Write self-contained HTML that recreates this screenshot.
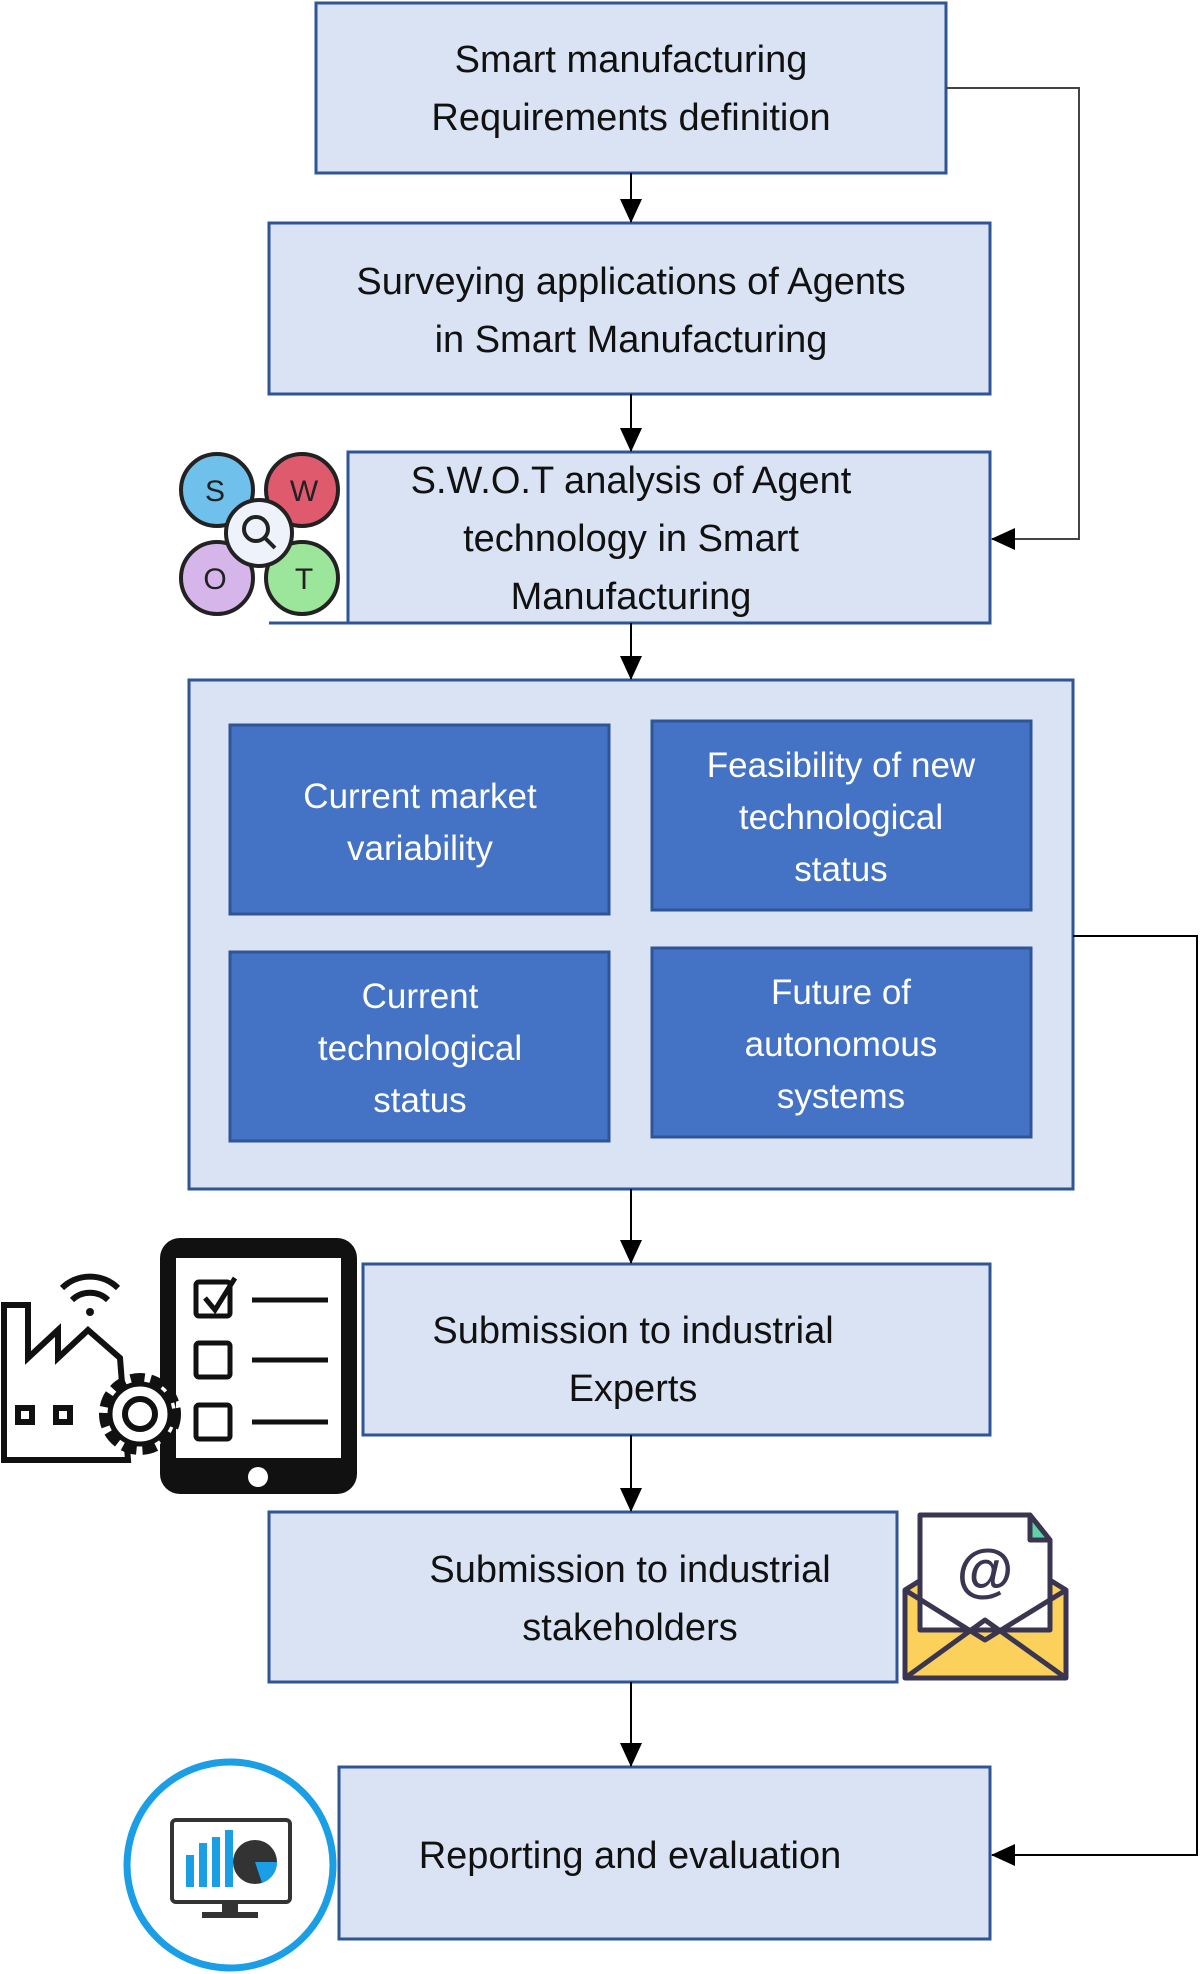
<!DOCTYPE html>
<html><head><meta charset="utf-8"><style>
html,body{margin:0;padding:0;background:#fff}
svg{display:block}
text{font-family:"Liberation Sans",sans-serif}
</style></head><body>
<svg width="1200" height="1974" viewBox="0 0 1200 1974" xmlns="http://www.w3.org/2000/svg">
<defs>
<marker id="ah" markerWidth="24" markerHeight="22" refX="23" refY="11" orient="auto" markerUnits="userSpaceOnUse" viewBox="0 0 24 22">
<path d="M0,0 L24,11 L0,22 z" fill="#000"/></marker>
</defs>
<g fill="#dae3f3" stroke="#2f5597" stroke-width="3">
<rect x="316" y="3" width="630" height="170"/>
<rect x="269" y="223" width="721" height="171"/>
<rect x="348" y="452" width="642" height="171"/>
<rect x="189" y="680" width="884" height="509"/>
<rect x="363" y="1264" width="627" height="171"/>
<rect x="269" y="1512" width="628" height="170"/>
<rect x="339" y="1767" width="651" height="172"/>
</g>
<line x1="269" y1="623" x2="348" y2="623" stroke="#2f5597" stroke-width="3"/>
<g fill="#4472c4" stroke="#2f5597" stroke-width="3">
<rect x="230" y="725" width="379" height="189"/>
<rect x="652" y="721" width="379" height="189"/>
<rect x="230" y="952" width="379" height="189"/>
<rect x="652" y="948" width="379" height="189"/>
</g>
<g stroke="#000" stroke-width="2" fill="none">
<line x1="631" y1="173" x2="631" y2="222" marker-end="url(#ah)"/>
<line x1="631" y1="394" x2="631" y2="451" marker-end="url(#ah)"/>
<line x1="631" y1="623" x2="631" y2="679" marker-end="url(#ah)"/>
<line x1="631" y1="1189" x2="631" y2="1263" marker-end="url(#ah)"/>
<line x1="631" y1="1435" x2="631" y2="1511" marker-end="url(#ah)"/>
<line x1="631" y1="1682" x2="631" y2="1766" marker-end="url(#ah)"/>
<polyline points="946,88 1079,88 1079,539 992,539" stroke="#444" marker-end="url(#ah)"/>
<polyline points="1073,936 1197,936 1197,1855 992,1855" marker-end="url(#ah)"/>
</g>
<g font-size="38" fill="#111" text-anchor="middle">
<text x="631" y="72">Smart manufacturing</text>
<text x="631" y="130">Requirements definition</text>
<text x="631" y="294">Surveying applications of  Agents</text>
<text x="631" y="352">in Smart Manufacturing</text>
<text x="631" y="493">S.W.O.T analysis of Agent</text>
<text x="631" y="551">technology in Smart</text>
<text x="631" y="609">Manufacturing</text>
<text x="633" y="1343">Submission to industrial</text>
<text x="633" y="1401">Experts</text>
<text x="630" y="1582">Submission to industrial</text>
<text x="630" y="1640">stakeholders</text>
<text x="630" y="1868">Reporting and evaluation</text>
</g>
<g font-size="35" fill="#fff" text-anchor="middle">
<text x="420" y="808">Current market</text>
<text x="420" y="860">variability</text>
<text x="841" y="777">Feasibility of new</text>
<text x="841" y="829">technological</text>
<text x="841" y="881">status</text>
<text x="420" y="1008">Current</text>
<text x="420" y="1060">technological</text>
<text x="420" y="1112">status</text>
<text x="841" y="1004">Future of</text>
<text x="841" y="1056">autonomous</text>
<text x="841" y="1108">systems</text>
</g>
<!-- SWOT icon -->
<g stroke="#222" stroke-width="4">
<circle cx="217" cy="490" r="36" fill="#6fc0ea"/>
<circle cx="302" cy="490" r="36" fill="#e05a6e"/>
<circle cx="217" cy="578" r="36" fill="#d6b6ea"/>
<circle cx="302" cy="578" r="36" fill="#9be69b"/>
<circle cx="259" cy="533" r="33" fill="#eef3fb"/>
<circle cx="256" cy="529" r="12" fill="none"/>
<line x1="265" y1="538" x2="275" y2="548"/>
</g>
<g font-size="30" fill="#222" text-anchor="middle">
<text x="215" y="501">S</text><text x="304" y="501">W</text>
<text x="215" y="589">O</text><text x="304" y="589">T</text>
</g>
<!-- factory/tablet icon -->
<rect x="160" y="1238" width="197" height="256" rx="20" fill="#111"/>
<rect x="176" y="1258" width="165" height="200" fill="#fff"/>
<circle cx="258" cy="1477" r="10" fill="#fff"/>
<g stroke="#111" stroke-width="5" fill="none">
<rect x="196" y="1282" width="34" height="34" rx="3"/>
<path d="M205 1298 l10 12 l20 -32"/>
<rect x="196" y="1343" width="34" height="34" rx="3"/>
<rect x="196" y="1405" width="34" height="34" rx="3"/>
<line x1="252" y1="1300" x2="328" y2="1300"/>
<line x1="252" y1="1360" x2="328" y2="1360"/>
<line x1="252" y1="1422" x2="328" y2="1422"/>
</g>
<rect x="0" y="1330" width="160" height="130" fill="#fff"/>
<g stroke="#111" stroke-width="6" fill="none">
<path d="M4 1460 V1305 H28 V1358 L58 1330 V1358 L88 1330 L120 1358 L128 1460 Z"/>
<rect x="18" y="1408" width="14" height="14"/><rect x="56" y="1408" width="14" height="14"/>
<circle cx="140" cy="1414" r="36" fill="#fff" stroke-dasharray="14 6" stroke-width="10"/>
<circle cx="140" cy="1414" r="30" fill="#fff" stroke-width="5"/>
<circle cx="140" cy="1414" r="15"/>
<path d="M72 1300 a26 26 0 0 1 36 0 M62 1288 a40 40 0 0 1 56 0"/>
</g>
<circle cx="90" cy="1312" r="4" fill="#111"/>
<!-- envelope -->
<g stroke="#3a3550" stroke-width="5" stroke-linejoin="round">
<path d="M905 1590 L985 1540 L1066 1590 V1678 H905 Z" fill="#fbd15b"/>
<path d="M920 1515 H1030 L1050 1540 V1630 H920 Z" fill="#fff"/>
<path d="M1030 1515 V1540 H1050 Z" fill="#5fd3a6"/>
<path d="M905 1590 L985 1640 L1066 1590 M905 1678 L985 1620 L1066 1678" fill="none"/>
</g>
<text x="985" y="1590" font-size="58" font-weight="bold" fill="#3a3550" text-anchor="middle">@</text>
<!-- reporting icon -->
<circle cx="230" cy="1865" r="103" fill="#fff" stroke="#1a9ee6" stroke-width="7"/>
<rect x="172" y="1820" width="118" height="82" rx="4" fill="#fff" stroke="#333" stroke-width="4"/>
<rect x="222" y="1902" width="16" height="12" fill="#333"/><rect x="202" y="1912" width="56" height="6" fill="#333"/>
<g fill="#1a9ee6"><rect x="186" y="1855" width="8" height="32"/><rect x="199" y="1843" width="8" height="44"/><rect x="212" y="1837" width="8" height="50"/><rect x="225" y="1830" width="8" height="57"/></g>
<circle cx="255" cy="1862" r="22" fill="#333"/>
<path d="M255 1862 L277 1862 A22 22 0 0 1 262 1883 Z" fill="#1a9ee6"/>
</svg>
</body></html>
